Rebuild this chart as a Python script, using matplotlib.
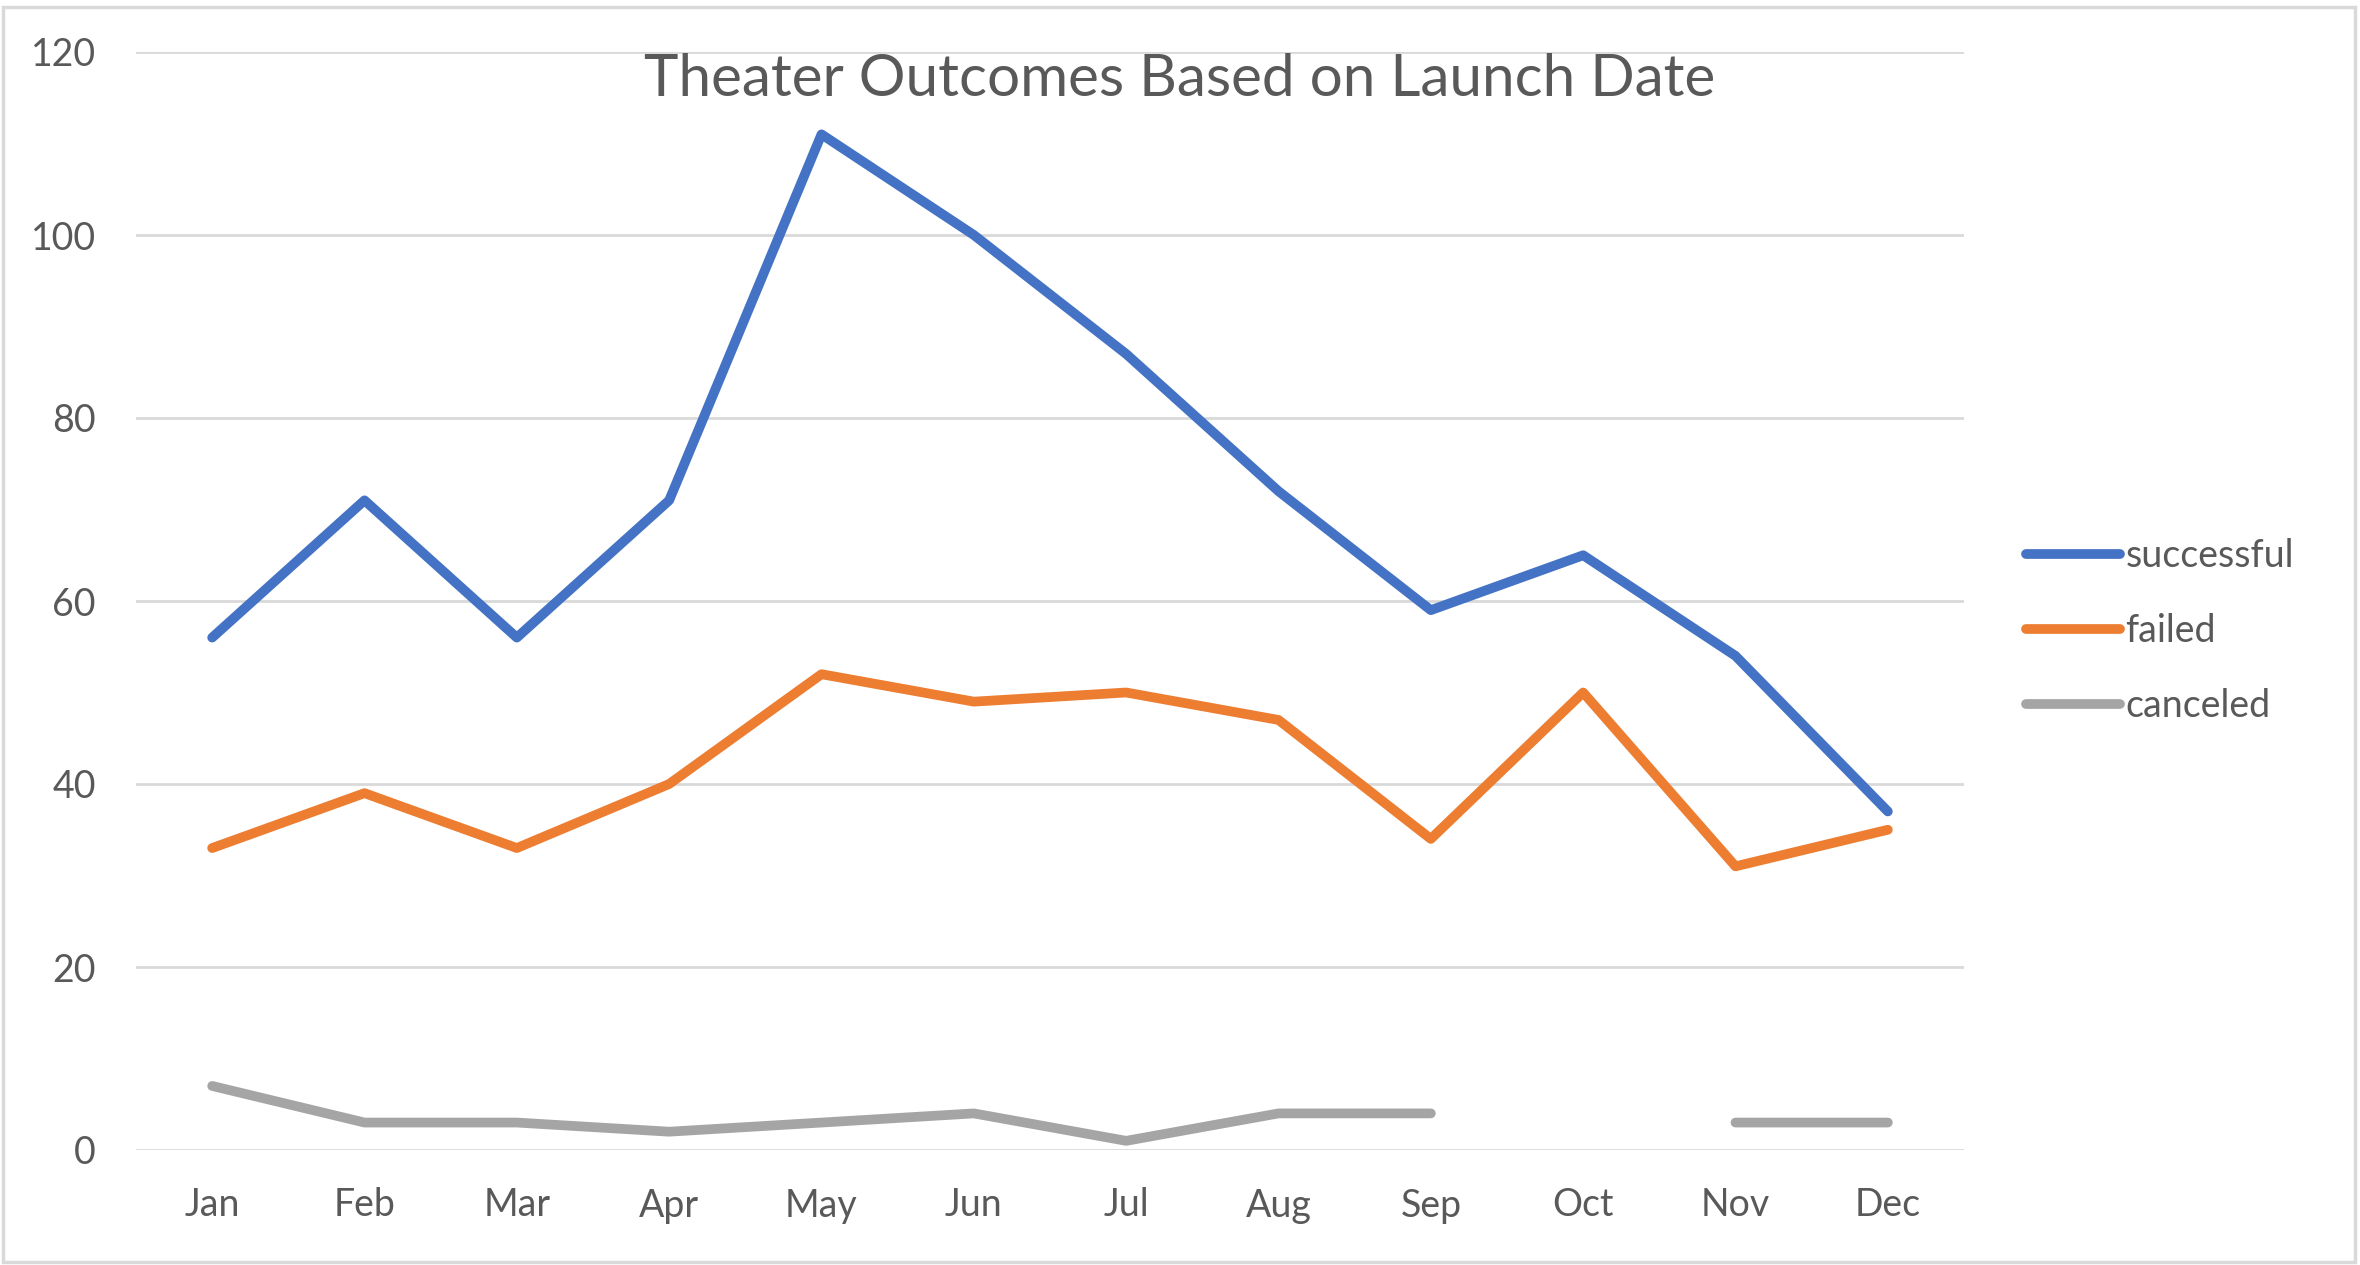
import numpy as np
import matplotlib
matplotlib.use("Agg")
import matplotlib.pyplot as plt
from matplotlib.patches import Rectangle

# data
months = ["Jan", "Feb", "Mar", "Apr", "May", "Jun", "Jul", "Aug", "Sep", "Oct", "Nov", "Dec"]
successful = [56, 71, 56, 71, 111, 100, 87, 72, 59, 65, 54, 37]
failed = [33, 39, 33, 40, 52, 49, 50, 47, 34, 50, 31, 35]
canceled = [7, 3, 3, 2, 3, 4, 1, 4, 4, np.nan, 3, 3]
yticks = [0, 20, 40, 60, 80, 100, 120]

plt.rcParams['font.family'] = ['Lato', 'DejaVu Sans']
txt = '#595959'

fig = plt.figure(figsize=(23.6, 12.65), dpi=100)
ax = fig.add_axes([136/2360, 1-1150/1265, (1964-136)/2360, (1150-52)/1265])

x = np.arange(len(months))
ax.plot(x, successful, color='#4472C4', lw=7, solid_capstyle='round', solid_joinstyle='round', label='successful')
ax.plot(x, failed, color='#ED7D31', lw=7, solid_capstyle='round', solid_joinstyle='round', label='failed')
ax.plot(x, canceled, color='#A5A5A5', lw=7, solid_capstyle='round', solid_joinstyle='round', label='canceled')

ax.set_xlim(-0.5, len(months) - 0.5)
ax.set_ylim(0, 120)
ax.set_yticks(yticks)
ax.set_xticks(x)
ax.set_xticklabels(months)
ax.tick_params(axis='both', length=0, labelsize=27, labelcolor=txt)
ax.tick_params(axis='y', pad=29)
ax.tick_params(axis='x', pad=27)
for s in ax.spines.values():
    s.set_visible(False)
ax.yaxis.grid(True, color='#D9D9D9', lw=2)
ax.set_axisbelow(True)
for l in ax.lines:
    l.set_clip_on(False)

fig.text(1180/2360, 1-80/1265, 'Theater Outcomes Based on Launch Date',
         ha='center', va='center', fontsize=42, color=txt)

leg = fig.legend(loc='center left', bbox_to_anchor=(2026/2360, 1-631/1265),
                 frameon=False, fontsize=27, handlelength=2.5, handletextpad=0.15,
                 labelspacing=1.05, borderpad=0, borderaxespad=0)
for t in leg.get_texts():
    t.set_color(txt)
for h in leg.get_lines():
    h.set_solid_capstyle('round')

fig.patches.append(Rectangle((3/2360, 3/1265), 1-8/2360, 1-10/1265, transform=fig.transFigure,
                             fill=False, edgecolor='#D9D9D9', lw=2.5))

fig.savefig('out.png', dpi=100)
